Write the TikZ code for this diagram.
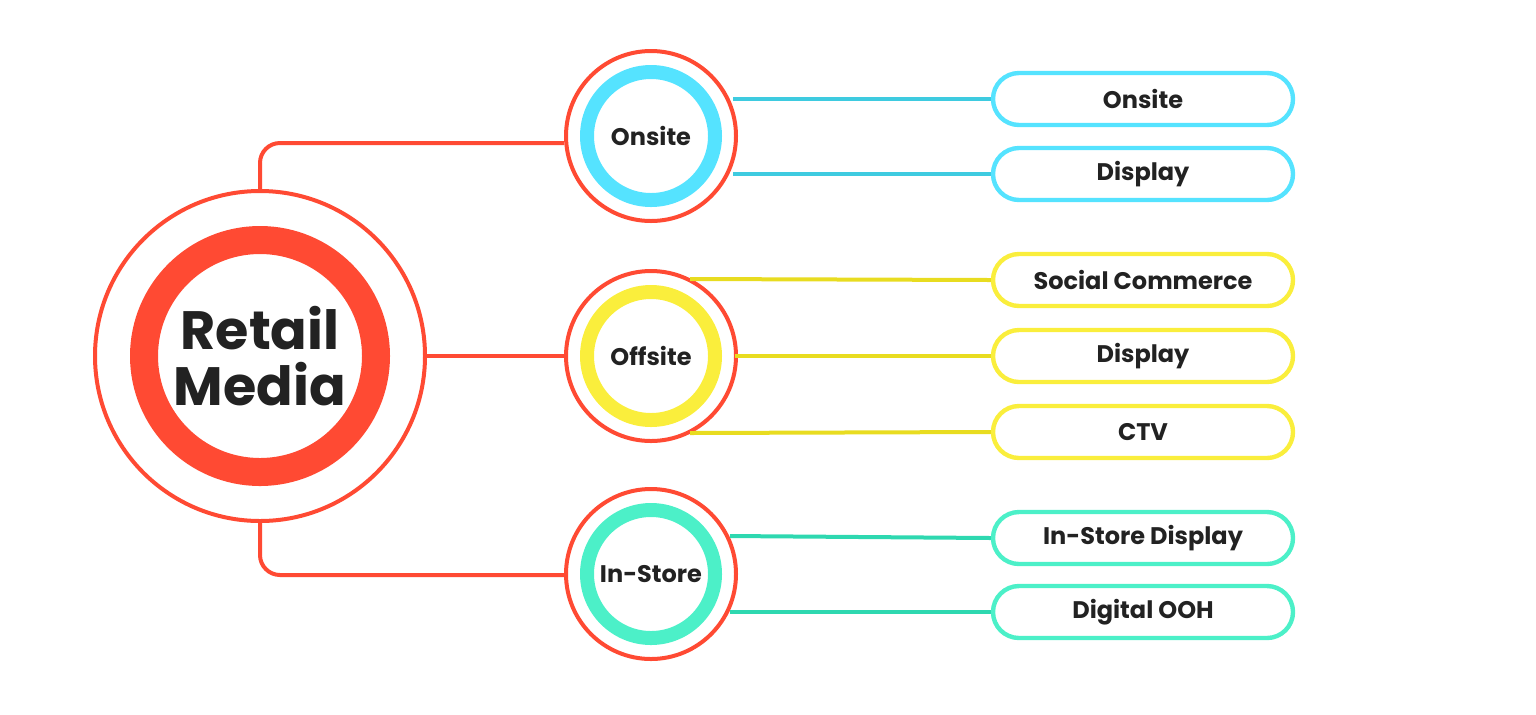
\documentclass[tikz,border=0pt]{standalone}
\usepackage{fontspec}
\setmainfont{Poppins}
\begin{document}
\begin{tikzpicture}[x=0.5pt,y=-0.5pt,
  red/.style={draw=rd,line width=2pt},
  pill/.style={draw=#1,line width=2.2pt,rounded corners=13pt,minimum width=150pt,minimum height=26pt,font=\bfseries\fontsize{12}{14}\selectfont,text=txt},
  lnk/.style={draw=#1,line width=2pt}]
\definecolor{rd}{HTML}{FF4A33}
\definecolor{txt}{HTML}{222222}
\definecolor{cy}{HTML}{55E3FF}\definecolor{cyl}{HTML}{3ECBE0}
\definecolor{ye}{HTML}{FAEE3C}\definecolor{yel}{HTML}{E8DC20}
\definecolor{gr}{HTML}{4CF0C8}\definecolor{grl}{HTML}{2ED8B0}
\useasboundingbox (0,0) rectangle (1536,714);
% main
\node[circle,minimum size=330*0.5pt,draw=rd,line width=2pt] (main) at (260,356) {};
\draw[rd,line width=14pt] (260,356) circle (116);
\node[font=\bfseries\fontsize{27}{28}\selectfont,text=txt,align=center] at (260,356) {Retail\\Media};
% sub circles
\foreach \n/\y/\c/\t in {on/136/cy/Onsite,off/356/ye/Offsite,ins/574/gr/In-Store}{
  \node[circle,minimum size=170*0.5pt,draw=rd,line width=2pt] (\n) at (651,\y) {};
  \draw[\c,line width=7pt] (651,\y) circle (64);
  \node[font=\bfseries\fontsize{12}{14}\selectfont,text=txt] at (651,\y) {\t};
}
\draw[red,rounded corners=10pt] (main.north) -- (260,143) -- (on.west|-0,143);
\draw[red] (main.east) -- (off.west);
\draw[red,rounded corners=10pt] (main.south) -- (260,575) -- (ins.west|-0,575);
% pills
\foreach \n/\y/\c/\t in {p1/99/cy/Onsite,p2/174/cy/Display,p3/280/ye/Social Commerce,p4/356/ye/Display,p5/432/ye/CTV,p6/538/gr/In-Store Display,p7/612/gr/Digital OOH}{
  \node[pill=\c] (\n) at (1143,\y) {\t};
}
\coordinate (a1) at (733,99);\coordinate (a2) at (733,174);
\coordinate (a3) at (690,279);\coordinate (a4) at (735,356);\coordinate (a5) at (690,433);
\coordinate (a6) at (730,536);\coordinate (a7) at (730,612);
\draw[lnk=cyl] (a1) -- (p1.west);\draw[lnk=cyl] (a2) -- (p2.west);
\draw[lnk=yel] (a3) -- (p3.west);\draw[lnk=yel] (a4) -- (p4.west);\draw[lnk=yel] (a5) -- (p5.west);
\draw[lnk=grl] (a6) -- (p6.west);\draw[lnk=grl] (a7) -- (p7.west);
\end{tikzpicture}
\end{document}
